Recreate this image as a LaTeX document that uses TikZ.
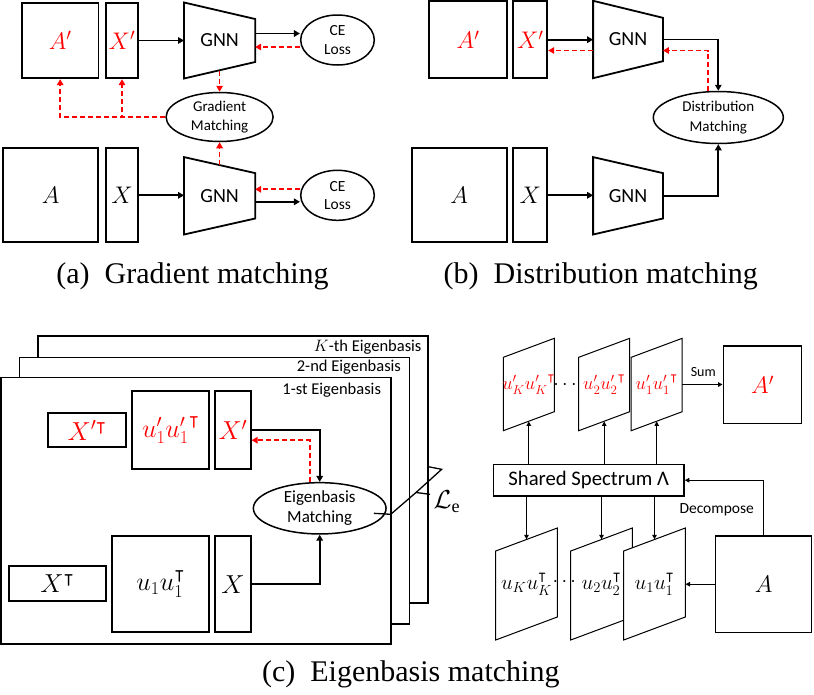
\RequirePackage{fix-cm}
\documentclass[tikz,border=0pt]{standalone}
\usepackage{amsmath,amssymb}
\usepackage{fontspec}
\setmainfont{Liberation Serif}
\newfontfamily\carlito{Carlito}
\usetikzlibrary{arrows.meta,shapes.geometric}
\tikzset{mybox/.style={draw,line width=1.8pt,inner sep=0pt}}
\tikzset{myell/.style={draw,ellipse,line width=1.5pt,inner sep=0pt,align=center}}
\tikzset{gnn/.style={inner sep=0pt,minimum width=70.7pt,minimum height=75.6pt,txt={20}{24}}}
\tikzset{frame/.style={draw,fill=white,line width=1.6pt,minimum width=390pt,minimum height=266.7pt}}
\tikzset{para/.style={draw,fill=white,line width=1pt}}
\tikzset{myarrow/.style={line width=1.8pt,-{Triangle[length=6pt,width=6.5pt]}}}
\tikzset{redarrow/.style={red,line width=1.7pt,dash pattern=on 5pt off 3pt,-{Triangle[length=6pt,width=6.5pt]}}}
\tikzset{thinarrow/.style={line width=1.2pt,-{Triangle[length=4.5pt,width=4.5pt]}}}
\tikzset{txt/.style n args={2}{font=\carlito\fontsize{#1}{#2}\selectfont}}
\tikzset{mth/.style={font=\fontsize{#1}{#1}\selectfont}}

\begin{document}
\begin{tikzpicture}[x=1pt,y=-1pt]
	\useasboundingbox (0,0) rectangle (814,694);

	% (a) gradient matching
	\node[mybox,minimum width=76.6pt,minimum height=75.6pt,mth=24,text=red] (Aa) at (60.2,40.5) {$A'$};
	\node[mybox,minimum width=32.6pt,minimum height=75.6pt,mth=24,text=red] (Xa) at (122,40.5) {$X'$};
	\node[gnn] (Ga) at (219.6,40.5) {GNN};
	\draw[line width=1.8pt] (Ga.north west) -- (Ga.south west) -- ([yshift=16.5pt]Ga.south east) -- ([yshift=-16.5pt]Ga.north east) -- cycle;
	\node[myell,minimum width=73.6pt,minimum height=50pt,txt={15.5}{18.3}] (Ca) at (337.5,40) {CE\\Loss};
	\node[myell,minimum width=107pt,minimum height=49pt,txt={15}{19.3}] (GM) at (219.6,117) {Gradient\\Matching};
	\node[mybox,minimum width=95pt,minimum height=94pt,mth=24] (Ab) at (50.8,195.3) {$A$};
	\node[mybox,minimum width=32.6pt,minimum height=94pt,mth=24] (Xb) at (122,195.3) {$X$};
	\node[gnn,minimum height=77pt] (Gb) at (219.6,195.8) {GNN};
	\draw[line width=1.8pt] (Gb.north west) -- (Gb.south west) -- ([yshift=16pt]Gb.south east) -- ([yshift=-16pt]Gb.north east) -- cycle;
	\node[myell,minimum width=73.6pt,minimum height=50pt,txt={15.5}{18.3}] (Cb) at (337.5,195.3) {CE\\Loss};

	\draw[myarrow] (Xa.east) -- (Xa.east -| Ga.west);
	\draw[myarrow] ([yshift=7pt]Ga.east) -- ([yshift=7pt]Ga.east -| Ca.west);
	\draw[redarrow] ([yshift=-7pt]Ca.west) -- ([yshift=-7pt]Ca.west -| Ga.east);
	\draw[redarrow] ([yshift=8pt]Ga.south) -- (GM.north);
	\draw[redarrow] (GM.west) -| (Aa.south);
	\draw[redarrow] (GM.west) -| (Xa.south);
	\draw[redarrow] ([yshift=-8pt]Gb.north) -- (GM.south);
	\draw[myarrow] (Xb.east) -- (Xb.east -| Gb.west);
	\draw[redarrow] ([yshift=6pt]Cb.west) -- ([yshift=6pt]Cb.west -| Gb.east);
	\draw[myarrow] ([yshift=-6.5pt]Cb.west -| Gb.east) -- ([yshift=-6.5pt]Cb.west);

	% (b) distribution matching
	\node[mybox,minimum width=77.4pt,minimum height=77.3pt,mth=24,text=red] (Ac) at (468,39.7) {$A'$};
	\node[mybox,minimum width=34pt,minimum height=77.3pt,mth=24,text=red] (Xc) at (530.3,39.7) {$X'$};
	\node[gnn,minimum width=69.4pt,minimum height=77pt] (Gc) at (628,39.5) {GNN};
	\draw[line width=1.8pt] (Gc.north west) -- (Gc.south west) -- ([yshift=17pt]Gc.south east) -- ([yshift=-17pt]Gc.north east) -- cycle;
	\node[myell,minimum width=130pt,minimum height=52pt,txt={15}{19.3}] (DM) at (718.3,117.5) {Distribution\\Matching};
	\node[mybox,minimum width=95pt,minimum height=94pt,mth=24] (Ad) at (459.2,195.3) {$A$};
	\node[mybox,minimum width=34pt,minimum height=94pt,mth=24] (Xd) at (530.3,195.3) {$X$};
	\node[gnn,minimum width=69.4pt,minimum height=77pt] (Gd) at (628,195.8) {GNN};
	\draw[line width=1.8pt] (Gd.north west) -- (Gd.south west) -- ([yshift=16pt]Gd.south east) -- ([yshift=-16pt]Gd.north east) -- cycle;

	\draw[myarrow] (Xc.east) -- (Xc.east -| Gc.west);
	\draw[redarrow] ([yshift=-11pt]Gc.west) -- ([yshift=-11pt]Gc.west -| Xc.east);
	\draw[myarrow] (Gc.east) -| (DM.north);
	\draw[redarrow] ([xshift=-10pt]DM.north) |- ([yshift=-11pt]Gc.east);
	\draw[myarrow] (Gd.east) -| (DM.south);
	\draw[myarrow] (Xd.east) -- (Xd.east -| Gd.west);

	\node[font=\fontsize{30}{30}\selectfont,anchor=base] (capa) at (192.5,283) {(a)\enspace Gradient matching};
	\node[font=\fontsize{30}{30}\selectfont,anchor=base] (capb) at (600.8,283) {(b)\enspace Distribution matching};

	% (c) eigenbasis matching, left part
	\node[frame] (FK) at (233,469.4) {};
	\node[txt={16.5}{16.5},anchor=base east] (lk) at (425,351.7) {$K$-th Eigenbasis};
	\node[frame] (F2) at (214.5,490.7) {};
	\node[txt={16.5}{16.5},anchor=base east] (l2) at (404.5,371.7) {2-nd Eigenbasis};
	\node[frame] (F1) at (196.2,510.7) {};
	\node[txt={16.5}{16.5},anchor=base east] (l1) at (384.5,394) {1-st Eigenbasis};

	\node[mybox,minimum width=77.4pt,minimum height=34pt,mth=26,text=red] (XTp) at (87,430.3) {$X'^{\intercal}$};
	\node[mybox,minimum width=77pt,minimum height=78.3pt,mth=26,text=red] (Up) at (170.8,430.2) {$u_1'{u_1'}^{\intercal}$};
	\node[mybox,minimum width=35.7pt,minimum height=78.3pt,mth=26,text=red] (Xe) at (232.9,430.2) {$X'$};
	\node[myell,minimum width=132.7pt,minimum height=51.3pt,txt={17}{20}] (EM) at (319.7,508.3) {Eigenbasis\\Matching};
	\node[mybox,minimum width=96.7pt,minimum height=35pt,mth=26] (XT) at (57.3,583.5) {$X^{\intercal}$};
	\node[mybox,minimum width=96.7pt,minimum height=96.3pt,mth=26] (U) at (160.7,584.2) {$u_1u_1^{\intercal}$};
	\node[mybox,minimum width=35.7pt,minimum height=96.3pt,mth=26] (Xf) at (232.9,584.2) {$X$};

	\draw[myarrow] (Xe.east) -| (EM.north);
	\draw[redarrow] ([xshift=-10pt]EM.north) |- ([yshift=-10pt]Xe.east);
	\draw[myarrow] (Xf.east) -| (EM.south);

	% brace to the loss
	\draw[line width=1.3pt] ([shift={(-13,5)}]EM.east) -- (390.7,514.3) -- (416,492.5) -- (430,494.3);
	\draw[line width=1.3pt] (416,492.5) -- (441.7,469.3) -- (428.3,466.7);
	\node[mth=26] (Le) at (447,502) {$\mathcal{L}_{\mathrm{e}}$};

	% (c) right part
	\foreach \cx/\nm/\lab in {528.8/pK/{$u_K'{u_K'}^{\intercal}$},604.2/p2/{$u_2'{u_2'}^{\intercal}$},656.7/p1/{$u_1'{u_1'}^{\intercal}$}}{
		\draw[para] (\cx-25.5,357.3) -- (\cx-25.5,430.7) -- (\cx+25.5,411.7) -- (\cx+25.5,338.3) -- cycle;
		\node[inner sep=0pt,minimum width=51pt,minimum height=73.4pt,mth=18.5,text=red] (\nm) at (\cx,384.5) {\lab};
	}
	\foreach \cx/\nm/\lab in {526.5/qK/{$u_Ku_K^{\intercal}$},601.5/q2/{$u_2u_2^{\intercal}$},654.5/q1/{$u_1u_1^{\intercal}$}}{
		\draw[para] (\cx-30.8,551) -- (\cx-30.8,640) -- (\cx+30.8,617) -- (\cx+30.8,528) -- cycle;
		\node[inner sep=0pt,minimum width=61.6pt,minimum height=89pt,mth=21] (\nm) at (\cx,584) {\lab};
	}
	\node[mth=20] (dt) at (566.7,385.5) {$\cdots$};
	\node[mth=20] (db) at (566,582.5) {$\cdots$};

	\node[mybox,line width=1.5pt,minimum width=78.4pt,minimum height=77.3pt,mth=24,text=red] (Ae) at (762.5,384.7) {$A'$};
	\node[mybox,line width=1.5pt,minimum width=190.7pt,minimum height=31.7pt,txt={20.7}{20.7}] (spec) at (588.7,480.2) {Shared Spectrum Λ};
	\node[mybox,line width=1.5pt,minimum width=96pt,minimum height=96.3pt,mth=24] (Af) at (763.7,584.2) {$A$};

	\draw[thinarrow] (p1.east) -- (p1.east -| Ae.west);
	\node[txt={14}{14}] (sum) at (703.3,371.7) {Sum};
	\foreach \n in {pK,p2,p1} \draw[thinarrow] (spec.north -| \n.south) -- (\n.south);
	\foreach \n in {qK,q2,q1} \draw[thinarrow] (spec.south -| \n.north) -- (\n.north);
	\draw[thinarrow] (Af.north) |- (spec.east);
	\node[txt={15.5}{15.5}] (dec) at (716.7,509.3) {Decompose};
	\draw[thinarrow] (Af.west) -- (Af.west -| q1.east);

	\node[font=\fontsize{30}{30}\selectfont,anchor=base] (capc) at (410.8,681) {(c)\enspace Eigenbasis matching};
\end{tikzpicture}
\end{document}
